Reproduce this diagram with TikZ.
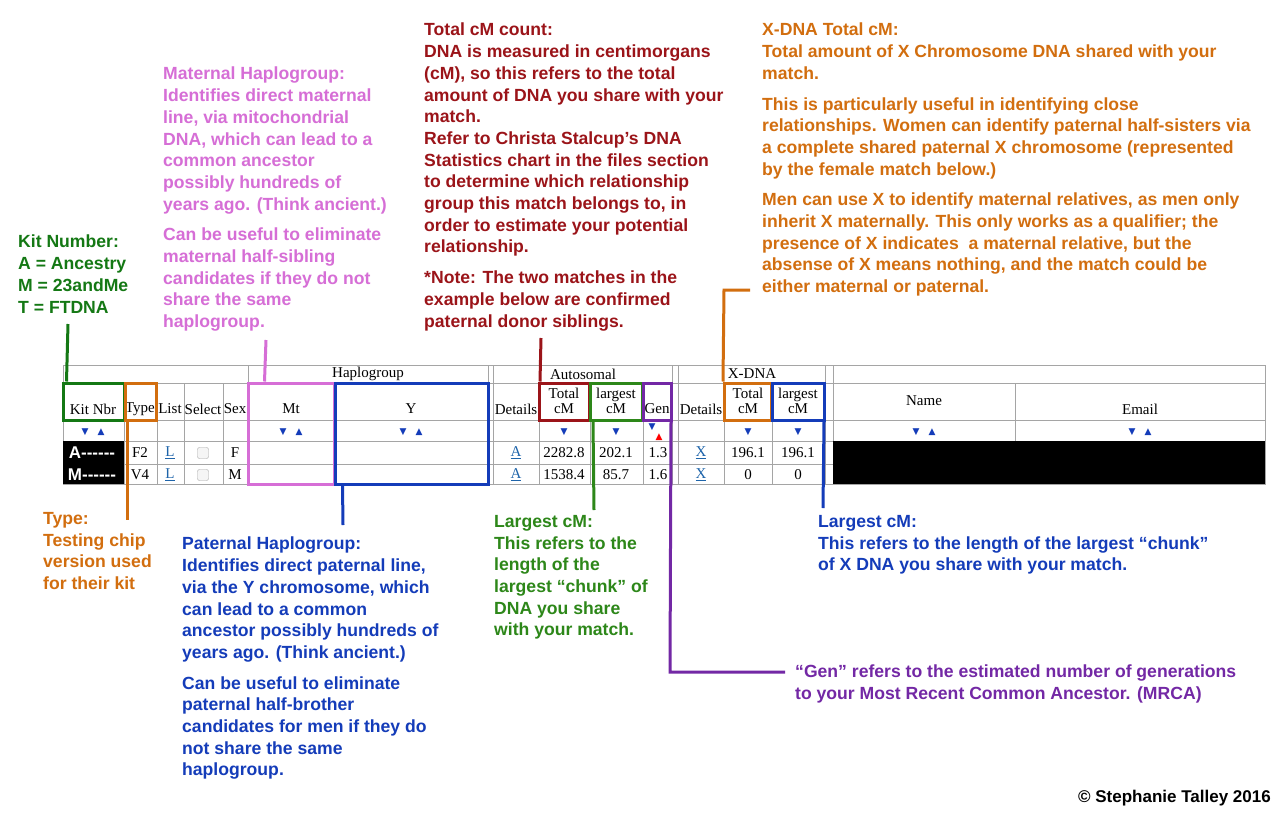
\documentclass[tikz,border=0pt]{standalone}
\usepackage{fontspec}
\setmainfont{Liberation Sans}
\newfontfamily\tabfont{Liberation Serif}
\newfontfamily\symfont{DejaVu Sans}
\usetikzlibrary{positioning}
\definecolor{cKit}{RGB}{20,120,20}
\definecolor{cPink}{RGB}{214,110,214}
\definecolor{cRed}{RGB}{155,20,25}
\definecolor{cOr}{RGB}{210,110,15}
\definecolor{cBlue}{RGB}{20,60,185}
\definecolor{cGrn}{RGB}{45,135,25}
\definecolor{cPur}{RGB}{115,40,165}
\definecolor{cLink}{RGB}{30,100,170}
\definecolor{grid}{RGB}{165,165,165}
\tikzset{
  lbl/.style={anchor=north west,inner sep=0,align=left,font=\fontsize{17.6}{21.7}\selectfont\bfseries},
  cell/.style={inner sep=0,font=\tabfont\fontsize{15}{14}\selectfont},
  hl/.style={line width=3pt},
  gl/.style={draw=grid,line width=1pt},
  arr/.style={inner sep=0,font=\symfont\fontsize{9}{9}\selectfont,text=cBlue},
  lnk/.style={cell,text=cLink},
  kitid/.style={inner sep=0,text=white,font=\fontsize{17}{17}\selectfont\bfseries},
  chk/.style={draw=grid,fill=gray!8,rounded corners=2pt,minimum size=11pt,inner sep=0},
}
\newcommand{\pg}{\\[9pt]}
\begin{document}
\begin{tikzpicture}[x=1pt,y=-1pt]
\useasboundingbox[fill=white] (0,0) rectangle (1280,817);
% ---------- table grid
\draw[gl] (63,365) rectangle (1265,484);
\foreach \y in {383,420,441,464} \draw[gl] (63,\y) -- (1265,\y);
\foreach \x in {124,157,184,223,248,334,539,590,643,724,772,1015}
  \draw[gl] (\x,383) -- (\x,484);
\foreach \x in {248,488,493,672,678,825,833}
  \draw[gl] (\x,365) -- (\x,484);
% black cells
\fill[black] (63,441) rectangle (124,484);
\fill[black] (833,441) rectangle (1265,484);
% headers
\node[cell] (hHap) at (368,374) {Haplogroup};
\node[cell] (hAut) at (583,374) {Autosomal};
\node[cell] (hXd) at (752,374) {X-DNA};
\node[cell] (hKit) at (93,409) {Kit Nbr};
\node[cell] (hType) at (140,409) {Type};
\node[cell] (hList) at (170,409) {List};
\node[cell] (hSel) at (203,409) {Select};
\node[cell] (hSex) at (235,409) {Sex};
\node[cell] (hMt) at (291,409) {Mt};
\node[cell] (hY) at (411,409) {Y};
\node[cell] (hDet) at (516,409) {Details};
\node[cell,align=center] (hTot) at (564,401) {Total\\[1pt]cM};
\node[cell,align=center] (hLar) at (616,401) {largest\\[1pt]cM};
\node[cell] (hGen) at (657,409) {Gen};
\node[cell] (hDet2) at (701,409) {Details};
\node[cell,align=center] (hTot2) at (748,401) {Total\\[1pt]cM};
\node[cell,align=center] (hLar2) at (798,401) {largest\\[1pt]cM};
\node[cell] (hName) at (924,401) {Name};
\node[cell] (hMail) at (1140,409) {Email};
% sort arrows
\foreach \x/\n in {93/a1,291/a2,411/a3,1140/a4,924/a5}
  \node[arr] (s\n) at (\x,432) {▼\hspace{9pt}▲};
\foreach \x/\n in {564/b1,616/b2,748/b3,798/b4}
  \node[arr] (s\n) at (\x,432) {▼};
\node[arr] (sg1) at (652,427) {▼};
\node[arr,text=red] (sg2) at (659,437) {▲};
% rows
\node[kitid] (k1) at (92,453) {A-{}-{}-{}-{}-{}-};
\node[kitid] (k2) at (92,475) {M-{}-{}-{}-{}-{}-};
\node[cell] (t1) at (140,453) {F2};
\node[cell] (t2) at (140,475) {V4};
\node[lnk] (l1) at (170,453) {\underline{L}};
\node[lnk] (l2) at (170,475) {\underline{L}};
\node[chk] (c1) at (203,453) {};
\node[chk] (c2) at (203,475) {};
\node[cell] (x1) at (235,453) {F};
\node[cell] (x2) at (235,475) {M};
\node[lnk] (d1) at (516,453) {\underline{A}};
\node[lnk] (d2) at (516,475) {\underline{A}};
\node[cell] (v1) at (564,453) {2282.8};
\node[cell] (v2) at (564,475) {1538.4};
\node[cell] (w1) at (616,453) {202.1};
\node[cell] (w2) at (616,475) {85.7};
\node[cell] (g1) at (658,453) {1.3};
\node[cell] (g2) at (658,475) {1.6};
\node[lnk] (e1) at (701,453) {\underline{X}};
\node[lnk] (e2) at (701,475) {\underline{X}};
\node[cell] (y1) at (748,453) {196.1};
\node[cell] (y2) at (748,475) {0};
\node[cell] (z1) at (798,453) {196.1};
\node[cell] (z2) at (798,475) {0};
% ---------- highlight boxes
\node[draw=cKit,hl,inner sep=0,minimum width=61,minimum height=37] (bKit) at (93.5,401.5) {};
\node[draw=cOr,hl,inner sep=0,minimum width=31,minimum height=37] (bType) at (141,401.5) {};
\node[draw=cPink,hl,inner sep=0,minimum width=86,minimum height=101] (bMt) at (291,433.5) {};
\node[draw=cBlue,hl,inner sep=0,minimum width=153,minimum height=101] (bY) at (411.5,433.5) {};
\node[draw=cRed,hl,inner sep=0,minimum width=50,minimum height=37] (bTot) at (564.5,401.5) {};
\node[draw=cGrn,hl,inner sep=0,minimum width=52,minimum height=37] (bLar) at (616.5,401.5) {};
\node[draw=cPur,hl,inner sep=0,minimum width=28,minimum height=37] (bGen) at (657.5,401.5) {};
\node[draw=cOr,hl,inner sep=0,minimum width=47,minimum height=37] (bXT) at (748,401.5) {};
\node[draw=cBlue,hl,inner sep=0,minimum width=52,minimum height=37] (bXL) at (798.5,401.5) {};
% ---------- labels
\node[lbl,text=cKit] (tKit) at (18,235) {Kit Number:\\A = Ancestry\\M = 23andMe\\T = FTDNA};
\node[lbl,text=cPink] (tMat) at (163,67) {Maternal Haplogroup:\\Identifies direct maternal\\line, via mitochondrial\\DNA, which can lead to a\\common ancestor\\possibly hundreds of\\years ago. (Think ancient.)\pg Can be useful to eliminate\\maternal half-sibling\\candidates if they do not\\share the same\\haplogroup.};
\node[lbl,text=cRed] (tTot) at (424,23) {Total cM count:\\DNA is measured in centimorgans\\(cM), so this refers to the total\\amount of DNA you share with your\\match.\\Refer to Christa Stalcup’s DNA\\Statistics chart in the files section\\to determine which relationship\\group this match belongs to, in\\order to estimate your potential\\relationship.\pg *Note: The two matches in the\\example below are confirmed\\paternal donor siblings.};
\node[lbl,text=cOr] (tX) at (762,23) {X-DNA Total cM:\\Total amount of X Chromosome DNA shared with your\\match.\pg This is particularly useful in identifying close\\relationships. Women can identify paternal half-sisters via\\a complete shared paternal X chromosome (represented\\by the female match below.)\pg Men can use X to identify maternal relatives, as men only\\inherit X maternally. This only works as a qualifier; the\\presence of X indicates\ \ a maternal relative, but the\\absense of X means nothing, and the match could be\\either maternal or paternal.};
\node[lbl,text=cOr] (tType) at (43,512) {Type:\\Testing chip\\version used\\for their kit};
\node[lbl,text=cBlue] (tPat) at (182,537) {Paternal Haplogroup:\\Identifies direct paternal line,\\via the Y chromosome, which\\can lead to a common\\ancestor possibly hundreds of\\years ago. (Think ancient.)\pg Can be useful to eliminate\\paternal half-brother\\candidates for men if they do\\not share the same\\haplogroup.};
\node[lbl,text=cGrn] (tLar) at (494,515) {Largest cM:\\This refers to the\\length of the\\largest “chunk” of\\DNA you share\\with your match.};
\node[lbl,text=cBlue] (tXL) at (818,515) {Largest cM:\\This refers to the length of the largest “chunk”\\of X DNA you share with your match.};
\node[lbl,text=cPur] (tGen) at (795,665) {“Gen” refers to the estimated number of generations\\to your Most Recent Common Ancestor. (MRCA)};
\node[anchor=east,inner sep=0,font=\fontsize{17}{17}\selectfont\bfseries] (copy) at (1271,798) {© Stephanie Talley 2016};
% ---------- connectors
\coordinate (kTop) at (68,324);
\draw[cKit,hl] ([xshift=5pt]bKit.north west) -- (kTop);
\coordinate (tyBot) at (127,520);
\draw[cOr,hl] ([xshift=3pt]bType.south west) -- (tyBot);
\coordinate (mtTop) at (266,340);
\draw[cPink,hl] ([xshift=18pt]bMt.north west) -- (mtTop);
\coordinate (yBot) at (343,525);
\draw[cBlue,hl] ([xshift=9pt]bY.south west) -- (yBot);
\coordinate (totTop) at (541,338);
\draw[cRed,hl] ([xshift=2pt]bTot.north west) -- (totTop);
\coordinate (larBot) at (594,510);
\draw[cGrn,hl] ([xshift=4pt]bLar.south west) -- (larBot);
\coordinate (genC) at (670,672);
\coordinate (genE) at (785,672);
\draw[cPur,hl] ([xshift=-2pt]bGen.south east) -- (genC) -- (genE);
\coordinate (xC) at (724,290);
\coordinate (xE) at (750,290);
\draw[cOr,hl] (bXT.north west) -- (xC) -- (xE);
\coordinate (xlBot) at (823,508);
\draw[cBlue,hl] ([xshift=-2pt]bXL.south east) -- (xlBot);
\end{tikzpicture}
\end{document}
